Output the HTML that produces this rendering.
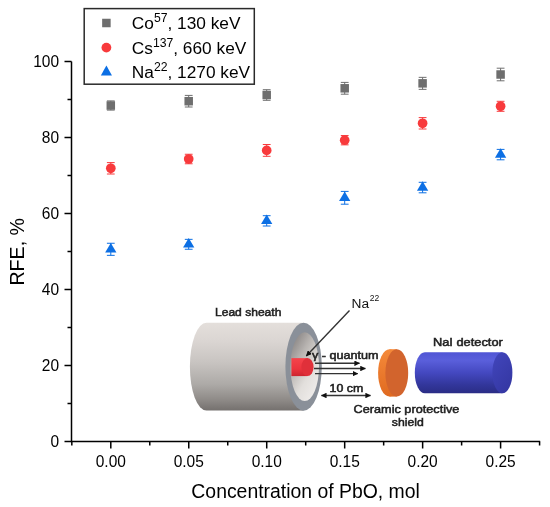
<!DOCTYPE html>
<html><head><meta charset="utf-8"><style>
html,body{margin:0;padding:0;background:#fff;}
svg{display:block;will-change:transform;}
text{font-family:"Liberation Sans",sans-serif;}
</style></head><body>
<svg width="550" height="507" viewBox="0 0 550 507">
<defs>
<linearGradient id="gBody" x1="0" y1="0" x2="0" y2="1">
<stop offset="0" stop-color="#e4dfdb"/><stop offset="0.2" stop-color="#dbd6d3"/><stop offset="0.45" stop-color="#c8c4c1"/><stop offset="0.7" stop-color="#adaaa7"/><stop offset="0.88" stop-color="#8e8a87"/><stop offset="1" stop-color="#74706e"/>
</linearGradient>
<linearGradient id="gInner" x1="0.1" y1="0.05" x2="0.75" y2="0.95">
<stop offset="0" stop-color="#858180"/><stop offset="0.35" stop-color="#b8b4b1"/><stop offset="0.7" stop-color="#e2dfdc"/><stop offset="1" stop-color="#eeebe9"/>
</linearGradient>
<linearGradient id="gRed" x1="0" y1="0" x2="0" y2="1">
<stop offset="0" stop-color="#f5444c"/><stop offset="0.6" stop-color="#ec343e"/><stop offset="1" stop-color="#cc2530"/>
</linearGradient>
<linearGradient id="gOr" x1="0" y1="0" x2="0" y2="1">
<stop offset="0" stop-color="#f58a3a"/><stop offset="1" stop-color="#e06a20"/>
</linearGradient>
<linearGradient id="gBlue" x1="0" y1="0" x2="0" y2="1">
<stop offset="0" stop-color="#5055d5"/><stop offset="0.2" stop-color="#5a5fdb"/><stop offset="0.5" stop-color="#4448c0"/><stop offset="0.8" stop-color="#32369a"/><stop offset="1" stop-color="#2a2d85"/>
</linearGradient>
<linearGradient id="gFace" x1="0" y1="0" x2="0.6" y2="1"><stop offset="0" stop-color="#4246bc"/><stop offset="1" stop-color="#3538a4"/></linearGradient>
<marker id="ah" viewBox="0 0 6 6" refX="5.5" refY="3" markerWidth="4" markerHeight="4" orient="auto-start-reverse"><path d="M0 0L6 3L0 6Z" fill="#111"/></marker>
</defs>
<!-- legend -->
<rect x="84.2" y="8.6" width="170.1" height="75.6" fill="none" stroke="#2a2a2a" stroke-width="1.5"/>
<rect x="102.15" y="18.75" width="8.5" height="8.5" fill="#6e6e6e"/>
<circle cx="106.40" cy="47.60" r="4.9" fill="#f83a3c"/>
<path d="M106.40 65.60L111.95 75.50H100.85Z" fill="#0c6fe4"/>
<g font-size="17.3">
<text x="131.8" y="29.3">Co<tspan font-size="12.2" dy="-7">57</tspan><tspan dy="7">, 130 keV</tspan></text>
<text x="131.8" y="53.7">Cs<tspan font-size="12.2" dy="-7">137</tspan><tspan dy="7">, 660 keV</tspan></text>
<text x="131.8" y="77.7">Na<tspan font-size="12.2" dy="-7">22</tspan><tspan dy="7">, 1270 keV</tspan></text>
</g>
<!-- diagram -->
<g id="diagram">
<text x="215" y="315.9" font-size="11" font-weight="normal" fill="#1e1e1e" stroke="#1e1e1e" stroke-width="0.5" textLength="66.4" lengthAdjust="spacingAndGlyphs">Lead sheath</text>
<!-- lead body -->
<path d="M206.5 322.7 H303.5 V410.6 H206.5 A16.6 43.95 0 0 1 206.5 322.7Z" fill="url(#gBody)"/>
<ellipse cx="303.6" cy="366.65" rx="18.2" ry="44" fill="#8a9099"/>
<ellipse cx="304.7" cy="366.7" rx="14.3" ry="34.4" fill="url(#gInner)"/>
<!-- red source -->
<path d="M291.4 358.1 H307.5 V376.1 H291.4Z" fill="url(#gRed)"/>
<ellipse cx="307.5" cy="367.1" rx="6.1" ry="9" fill="#e0303a"/>
<!-- arrows -->
<g stroke="#333" stroke-width="1.4" fill="none">
<path d="M315 363.3 H359.5" marker-end="url(#ah)"/>
<path d="M314 368.5 H365.4" marker-end="url(#ah)"/>
<path d="M315 373.6 H357.7" marker-end="url(#ah)"/>
<path d="M321.4 395.5 H370.5" marker-start="url(#ah)" marker-end="url(#ah)"/>
<path d="M349.5 310.5 L306.3 355.9" marker-end="url(#ah)"/>
</g>
<text x="311.9" y="359.1" font-size="10.5" font-weight="normal" fill="#1e1e1e" stroke="#1e1e1e" stroke-width="0.5" textLength="66.7" lengthAdjust="spacingAndGlyphs">γ - quantum</text>
<text x="329.5" y="391.5" font-size="10.5" font-weight="normal" fill="#1e1e1e" stroke="#1e1e1e" stroke-width="0.5" textLength="33.7" lengthAdjust="spacingAndGlyphs">10 cm</text>
<text x="351.6" y="307.7" font-size="12.3" fill="#111" textLength="17.6" lengthAdjust="spacingAndGlyphs">Na</text><text x="369.8" y="301" font-size="8.7" fill="#111" textLength="9.5" lengthAdjust="spacingAndGlyphs">22</text>
<!-- orange disc -->
<ellipse cx="389.5" cy="372.9" rx="11.4" ry="23.7" fill="url(#gOr)"/>
<path d="M389.5 349.2 H396.8 V396.6 H389.5Z" fill="url(#gOr)"/>
<ellipse cx="396.8" cy="372.9" rx="11.4" ry="23.7" fill="#d2642d"/>
<!-- blue detector -->
<path d="M424.8 352.2 H502.4 V393.3 H424.8 A10 20.55 0 0 1 424.8 352.2Z" fill="url(#gBlue)"/>
<ellipse cx="502.4" cy="372.75" rx="10" ry="20.55" fill="url(#gFace)"/>
<text x="432.9" y="345.7" font-size="11" font-weight="normal" fill="#1e1e1e" stroke="#1e1e1e" stroke-width="0.5" textLength="69.9" lengthAdjust="spacingAndGlyphs">NaI detector</text>
<text x="353.6" y="413.1" font-size="11" font-weight="normal" fill="#1e1e1e" stroke="#1e1e1e" stroke-width="0.5" textLength="105.8" lengthAdjust="spacingAndGlyphs">Ceramic protective</text>
<text x="391.8" y="425.8" font-size="11" font-weight="normal" fill="#1e1e1e" stroke="#1e1e1e" stroke-width="0.5" textLength="31.9" lengthAdjust="spacingAndGlyphs">shield</text>
</g>
<!-- axes -->
<path d="M71.5 61.5V442.25M70.75 441.5H540.15" stroke="#000" stroke-width="1.5" fill="none"/><path d="M64.5 441.50H71.5 M67.5 403.50H71.5 M64.5 365.50H71.5 M67.5 327.50H71.5 M64.5 289.50H71.5 M67.5 251.50H71.5 M64.5 213.50H71.5 M67.5 175.50H71.5 M64.5 137.50H71.5 M67.5 99.50H71.5 M64.5 61.50H71.5 M71.82 441.5V445.5 M110.80 441.5V448.5 M149.78 441.5V445.5 M188.76 441.5V448.5 M227.74 441.5V445.5 M266.72 441.5V448.5 M305.70 441.5V445.5 M344.68 441.5V448.5 M383.66 441.5V445.5 M422.64 441.5V448.5 M461.62 441.5V445.5 M500.60 441.5V448.5 M539.58 441.5V445.5" stroke="#000" stroke-width="1.5" fill="none"/>
<g font-size="15.5" fill="#000">
<text transform="translate(59 446.65) scale(1 1.08)" text-anchor="end">0</text><text transform="translate(59 370.65) scale(1 1.08)" text-anchor="end">20</text><text transform="translate(59 294.65) scale(1 1.08)" text-anchor="end">40</text><text transform="translate(59 218.65) scale(1 1.08)" text-anchor="end">60</text><text transform="translate(59 142.65) scale(1 1.08)" text-anchor="end">80</text><text transform="translate(59 66.65) scale(1 1.08)" text-anchor="end">100</text><text transform="translate(110.80 467.1) scale(1 1.09)" text-anchor="middle">0.00</text><text transform="translate(188.70 467.1) scale(1 1.09)" text-anchor="middle">0.05</text><text transform="translate(266.70 467.1) scale(1 1.09)" text-anchor="middle">0.10</text><text transform="translate(344.70 467.1) scale(1 1.09)" text-anchor="middle">0.15</text><text transform="translate(422.60 467.1) scale(1 1.09)" text-anchor="middle">0.20</text><text transform="translate(500.60 467.1) scale(1 1.09)" text-anchor="middle">0.25</text>
</g>
<text x="305.6" y="497.9" font-size="19.4" text-anchor="middle">Concentration of PbO, mol</text>
<text transform="translate(24.2 251.8) rotate(-90)" font-size="19.6" text-anchor="middle">RFE, %</text>
<!-- data -->
<path d="M110.80 100.90V110.10M106.90 100.90h7.8M106.90 110.10h7.8" stroke="#6e6e6e" stroke-width="1" fill="none"/><rect x="106.55" y="101.25" width="8.5" height="8.5" fill="#6e6e6e"/><path d="M110.80 162.60V174.00M106.90 162.60h7.8M106.90 174.00h7.8" stroke="#f83a3c" stroke-width="1" fill="none"/><circle cx="110.80" cy="168.30" r="4.85" fill="#f83a3c"/><path d="M110.80 243.25V255.35M106.90 243.25h7.8M106.90 255.35h7.8" stroke="#0c6fe4" stroke-width="1" fill="none"/><path d="M110.80 242.90L116.45 252.50H105.15Z" fill="#0c6fe4"/><path d="M188.70 95.40V107.00M184.80 95.40h7.8M184.80 107.00h7.8" stroke="#6e6e6e" stroke-width="1" fill="none"/><rect x="184.45" y="96.95" width="8.5" height="8.5" fill="#6e6e6e"/><path d="M188.70 154.25V163.75M184.80 154.25h7.8M184.80 163.75h7.8" stroke="#f83a3c" stroke-width="1" fill="none"/><circle cx="188.70" cy="159.00" r="4.85" fill="#f83a3c"/><path d="M188.70 239.35V249.25M184.80 239.35h7.8M184.80 249.25h7.8" stroke="#0c6fe4" stroke-width="1" fill="none"/><path d="M188.70 237.90L194.35 247.50H183.05Z" fill="#0c6fe4"/><path d="M266.70 89.70V100.30M262.80 89.70h7.8M262.80 100.30h7.8" stroke="#6e6e6e" stroke-width="1" fill="none"/><rect x="262.45" y="90.75" width="8.5" height="8.5" fill="#6e6e6e"/><path d="M266.70 144.50V156.30M262.80 144.50h7.8M262.80 156.30h7.8" stroke="#f83a3c" stroke-width="1" fill="none"/><circle cx="266.70" cy="150.40" r="4.85" fill="#f83a3c"/><path d="M266.70 215.70V226.00M262.80 215.70h7.8M262.80 226.00h7.8" stroke="#0c6fe4" stroke-width="1" fill="none"/><path d="M266.70 214.45L272.35 224.05H261.05Z" fill="#0c6fe4"/><path d="M344.70 82.40V94.20M340.80 82.40h7.8M340.80 94.20h7.8" stroke="#6e6e6e" stroke-width="1" fill="none"/><rect x="340.45" y="84.05" width="8.5" height="8.5" fill="#6e6e6e"/><path d="M344.70 135.55V144.85M340.80 135.55h7.8M340.80 144.85h7.8" stroke="#f83a3c" stroke-width="1" fill="none"/><circle cx="344.70" cy="140.20" r="4.85" fill="#f83a3c"/><path d="M344.70 191.40V204.20M340.80 191.40h7.8M340.80 204.20h7.8" stroke="#0c6fe4" stroke-width="1" fill="none"/><path d="M344.70 191.40L350.35 201.00H339.05Z" fill="#0c6fe4"/><path d="M422.60 77.35V89.35M418.70 77.35h7.8M418.70 89.35h7.8" stroke="#6e6e6e" stroke-width="1" fill="none"/><rect x="418.35" y="79.10" width="8.5" height="8.5" fill="#6e6e6e"/><path d="M422.60 117.60V129.00M418.70 117.60h7.8M418.70 129.00h7.8" stroke="#f83a3c" stroke-width="1" fill="none"/><circle cx="422.60" cy="123.30" r="4.85" fill="#f83a3c"/><path d="M422.60 182.30V192.80M418.70 182.30h7.8M418.70 192.80h7.8" stroke="#0c6fe4" stroke-width="1" fill="none"/><path d="M422.60 181.15L428.25 190.75H416.95Z" fill="#0c6fe4"/><path d="M500.60 68.20V80.80M496.70 68.20h7.8M496.70 80.80h7.8" stroke="#6e6e6e" stroke-width="1" fill="none"/><rect x="496.35" y="70.25" width="8.5" height="8.5" fill="#6e6e6e"/><path d="M500.60 101.30V111.30M496.70 101.30h7.8M496.70 111.30h7.8" stroke="#f83a3c" stroke-width="1" fill="none"/><circle cx="500.60" cy="106.30" r="4.85" fill="#f83a3c"/><path d="M500.60 149.40V159.80M496.70 149.40h7.8M496.70 159.80h7.8" stroke="#0c6fe4" stroke-width="1" fill="none"/><path d="M500.60 148.20L506.25 157.80H494.95Z" fill="#0c6fe4"/>
</svg>
</body></html>
